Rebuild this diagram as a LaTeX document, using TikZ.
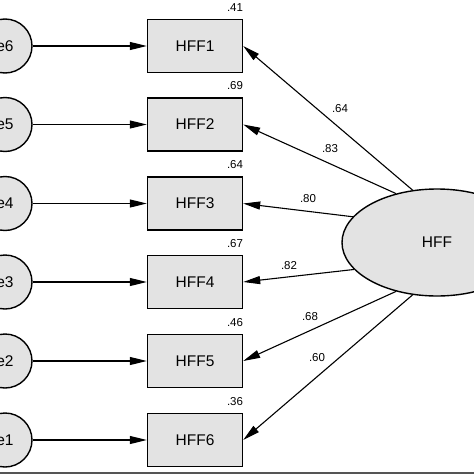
\documentclass[tikz,border=0pt]{standalone}
\usepackage{fontspec}
\setmainfont{Liberation Sans}
\usetikzlibrary{arrows.meta,shapes.geometric}
\definecolor{fillg}{HTML}{E3E3E3}
\definecolor{band}{HTML}{555555}
\begin{document}
\begin{tikzpicture}[x=1pt,y=-1pt,
  errc/.style={circle,draw,line width=1.4pt,fill=fillg,minimum size=54pt,inner sep=0pt,font=\fontsize{15.5}{16}\selectfont},
  obs/.style={rectangle,draw,line width=1.4pt,fill=fillg,minimum width=95pt,minimum height=53pt,inner sep=0pt,font=\fontsize{15.5}{16}\selectfont},
  lat/.style={ellipse,draw,line width=1.4pt,fill=fillg,minimum width=190pt,minimum height=107pt,inner sep=0pt,font=\fontsize{15.5}{16}\selectfont},
  arr/.style={line width=1.1pt,-{Triangle[length=17pt,width=8pt]}},
  lbl/.style={inner sep=0pt,font=\fontsize{11.5}{12}\selectfont}]
\useasboundingbox (0,0) rectangle (474,474);
\clip (0,0) rectangle (474,474);
\fill[white] (0,0) rectangle (474,474);
% error terms
\node[errc] (e6) at (5,46) {e6};
\node[errc] (e5) at (5,124.5) {e5};
\node[errc] (e4) at (5,203.5) {e4};
\node[errc] (e3) at (5,282) {e3};
\node[errc] (e2) at (5,361) {e2};
\node[errc] (e1) at (5,440) {e1};
% observed
\node[obs] (b1) at (195,46) {HFF1};
\node[obs] (b2) at (195,124.5) {HFF2};
\node[obs] (b3) at (195,203.5) {HFF3};
\node[obs] (b4) at (195,282) {HFF4};
\node[obs] (b5) at (195,361) {HFF5};
\node[obs] (b6) at (195,440) {HFF6};
% latent
\node[lat] (hff) at (437,242.5) {HFF};
% R2 labels
\node[lbl,anchor=south east] (r1) at ([yshift=7pt]b1.north east) {.41};
\node[lbl,anchor=south east] (r2) at ([yshift=7pt]b2.north east) {.69};
\node[lbl,anchor=south east] (r3) at ([yshift=7pt]b3.north east) {.64};
\node[lbl,anchor=south east] (r4) at ([yshift=7pt]b4.north east) {.67};
\node[lbl,anchor=south east] (r5) at ([yshift=7pt]b5.north east) {.46};
\node[lbl,anchor=south east] (r6) at ([yshift=7pt]b6.north east) {.36};
% error arrows
\draw[arr] (e6) -- (b1);
\draw[arr] (e5) -- (b2);
\draw[arr] (e4) -- (b3);
\draw[arr] (e3) -- (b4);
\draw[arr] (e2) -- (b5);
\draw[arr] (e1) -- (b6);
% loadings
\draw[arr] (hff.115) -- (b1.east);
\draw[arr] (hff.130) -- (b2.east);
\draw[arr] (hff.163) -- (b3.east);
\draw[arr] (hff.198) -- (b4.east);
\draw[arr] (hff.230) -- (b5.east);
\draw[arr] (hff.245) -- (b6.east);
\node[lbl] (l1) at (340,109) {.64};
\node[lbl] (l2) at (330,149) {.83};
\node[lbl] (l3) at (308,199) {.80};
\node[lbl] (l4) at (289,266) {.82};
\node[lbl] (l5) at (310,317) {.68};
\node[lbl] (l6) at (317,358) {.60};
% bottom band
\fill[band] (0,471.5) rectangle (474,474);
\end{tikzpicture}
\end{document}
